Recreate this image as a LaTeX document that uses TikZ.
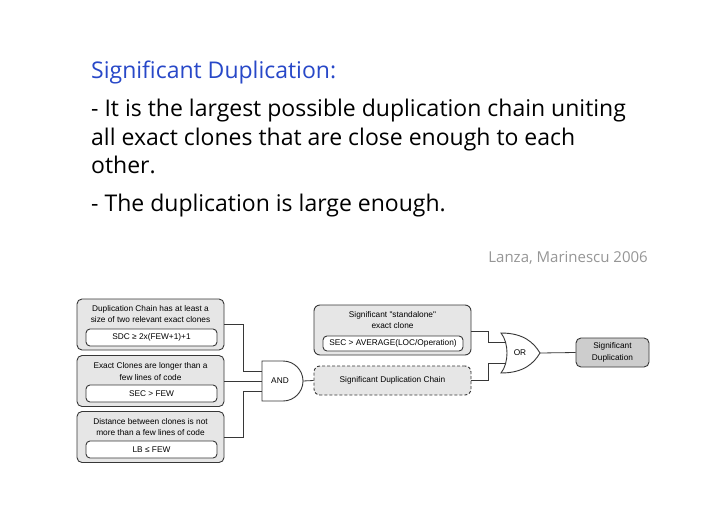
\documentclass[tikz,border=0pt]{standalone}
\usepackage{fontspec}
\setmainfont{Open Sans}[Ligatures={NoCommon,NoRequired,NoContextual}]
\newfontfamily\diag{Liberation Sans}
\definecolor{titleblue}{RGB}{40,72,200}
\definecolor{boxgray}{RGB}{230,230,230}
\definecolor{outgray}{RGB}{205,205,205}
\definecolor{edge}{RGB}{55,55,55}
\definecolor{refgray}{RGB}{150,150,150}
\begin{document}
\begin{tikzpicture}[x=1pt,y=-1pt,
  outer/.style={draw=edge,fill=boxgray,rounded corners=5pt,line width=0.9pt,minimum width=147pt,minimum height=51pt,inner sep=0pt},
  inner/.style={draw=edge,fill=white,rounded corners=4pt,line width=0.9pt,inner sep=0pt,font=\diag\fontsize{8.3}{9}\selectfont},
  dtext/.style={font=\diag\fontsize{8.3}{11.8}\selectfont,align=center,inner sep=0pt},
  wire/.style={draw=edge,line width=0.8pt},
  gate/.style={draw=edge,fill=white,line width=0.9pt},
  body/.style={font=\fontsize{23}{26}\selectfont,anchor=base west,inner sep=0pt}]
\useasboundingbox[fill=white] (0,0) rectangle (728,514);

% slide text
\node[body,text=titleblue] (t0) at (91,78) {Significant Duplication:};
\node[body] (t1) at (91,116) {- It is the largest possible duplication chain uniting};
\node[body] (t2) at (91,145) {all exact clones that are close enough to each};
\node[body] (t3) at (91,173) {other.};
\node[body] (t4) at (91,211) {- The duplication is large enough.};
\node[font=\fontsize{15}{18}\selectfont,text=refgray,anchor=base east,inner sep=0pt] (ref) at (648,262) {Lanza, Marinescu 2006};

% left condition boxes
\node[outer] (b1) at (150.5,324.5) {};
\node[dtext] (b1t) at (150.5,314) {Duplication Chain has at least a\\size of two relevant exact clones};
\node[inner,minimum width=131pt,minimum height=17pt] (b1i) at (151.5,337.5) {SDC ≥ 2x(FEW+1)+1};

\node[outer] (b2) at (150.5,381) {};
\node[dtext] (b2t) at (150.5,371.5) {Exact Clones are longer than a\\few lines of code};
\node[inner,minimum width=131pt,minimum height=17pt] (b2i) at (151.5,393.5) {SEC > FEW};

\node[outer] (b3) at (150.5,437) {};
\node[dtext] (b3t) at (150.5,427) {Distance between clones is not\\more than a few lines of code};
\node[inner,minimum width=131pt,minimum height=17pt] (b3i) at (151.5,449.5) {LB ≤ FEW};

% AND gate
\coordinate (a1) at (262,371);
\coordinate (a2) at (262,381);
\coordinate (a3) at (262,391);
\coordinate (aout) at (303,381);
\draw[wire] (b1.east) -- (243,324.5) |- (a1);
\draw[wire] (b2.east) -- (a2);
\draw[wire] (b3.east) -- (243,437) |- (a3);
\draw[gate] (262,361) -- (283,361) arc[start angle=-90,end angle=90,radius=20] -- (262,401) -- cycle;
\node[dtext] (andt) at (280,381) {AND};

% middle boxes
\node[draw=edge,fill=boxgray,rounded corners=6pt,line width=0.9pt,minimum width=157pt,minimum height=50pt,inner sep=0pt] (sa) at (392.5,330) {};
\node[dtext,font=\diag\fontsize{8.3}{10.5}\selectfont] (sat) at (392.5,320) {Significant "standalone"\\exact clone};
\node[inner,minimum width=140pt,minimum height=15pt] (sai) at (393,343.5) {SEC > AVERAGE(LOC/Operation)};

\node[draw=edge,fill=boxgray,dashed,dash pattern=on 3pt off 2pt,rounded corners=6pt,line width=0.9pt,minimum width=157pt,minimum height=29pt,inner sep=0pt,font=\diag\fontsize{8.3}{9}\selectfont] (sdc) at (392.5,380.5) {Significant Duplication Chain};
\draw[wire] (aout) -- (sdc.west);

% OR gate
\coordinate (o1) at (508,342);
\coordinate (o2) at (508,363);
\coordinate (oout) at (540,353);
\draw[wire] (sa.east |- 0,331) -- (488,331) |- (o1);
\draw[wire] (sdc.east) -- (488,380.5) |- (o2);
\draw[gate] (501,333) .. controls (524,333) and (534,343) .. (oout)
  .. controls (534,363) and (524,373) .. (501,373)
  .. controls (509,363) and (509,343) .. (501,333) -- cycle;
\node[dtext] (ort) at (520,353) {OR};

% output
\node[draw=edge,fill=outgray,rounded corners=5pt,line width=0.9pt,minimum width=73pt,minimum height=29pt,inner sep=0pt,font=\diag\fontsize{8.3}{11.5}\selectfont,align=center] (out) at (612.5,352.5) {Significant\\Duplication};
\draw[wire] (oout) -- (out.west);
\end{tikzpicture}
\end{document}
